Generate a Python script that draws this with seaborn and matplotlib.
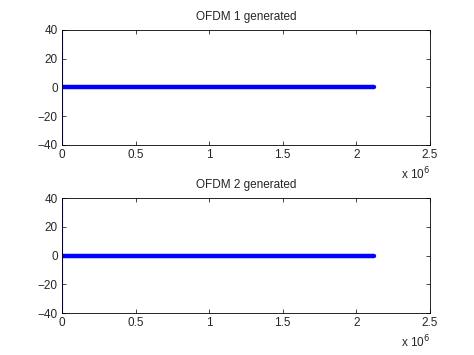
import numpy as np
import pandas as pd
import matplotlib
matplotlib.use("Agg")
import matplotlib.pyplot as plt
import seaborn as sns

sns.set_style("white")
plt.rcParams["font.family"] = ["Liberation Sans", "DejaVu Sans"]

# signal data
titles = ["OFDM 1 generated", "OFDM 2 generated"]
sample_idx = [0, 2.12e6]
amplitude = [0, 0]
# short burst at the very start that reaches beyond the y-range
burst_idx = [0, 0]
burst_amp = [45, -45]
xticks = [0, 0.5e6, 1e6, 1.5e6, 2e6, 2.5e6]
xticklabels = ["0", "0.5", "1", "1.5", "2", "2.5"]
yticks = [-40, -20, 0, 20, 40]

fig = plt.figure(figsize=(4.74, 3.55), dpi=100)
axes_pos = [[0.131, 0.592, 0.776, 0.324], [0.131, 0.118, 0.776, 0.324]]

for title, pos in zip(titles, axes_pos):
    ax = fig.add_axes(pos)
    body = pd.DataFrame({"n": sample_idx, "v": amplitude})
    burst = pd.DataFrame({"n": burst_idx, "v": burst_amp})
    sns.lineplot(data=burst, x="n", y="v", ax=ax, color="#0000ff", linewidth=0.8,
                 sort=False, estimator=None)
    sns.lineplot(data=body, x="n", y="v", ax=ax, color="#0000ff", linewidth=3.2,
                 sort=False, estimator=None, solid_capstyle="round")
    ax.set_xlim(0, 2.5e6)
    ax.set_ylim(-40, 40)
    ax.set_xticks(xticks)
    ax.set_xticklabels(xticklabels)
    ax.set_yticks(yticks)
    ax.set_xlabel("")
    ax.set_ylabel("")
    ax.set_title(title, fontsize=8.5, pad=7)
    ax.tick_params(direction="in", length=3, width=0.6, labelsize=8.5,
                   top=True, right=True, bottom=True, left=True, pad=3)
    for s in ax.spines.values():
        s.set_visible(True)
        s.set_color("black")
        s.set_linewidth(0.6)
    ax.text(1.0, -0.25, r"x 10$^{6}$", transform=ax.transAxes, fontsize=8.5,
            ha="right", va="center")

fig.savefig("out.png", dpi=100)
